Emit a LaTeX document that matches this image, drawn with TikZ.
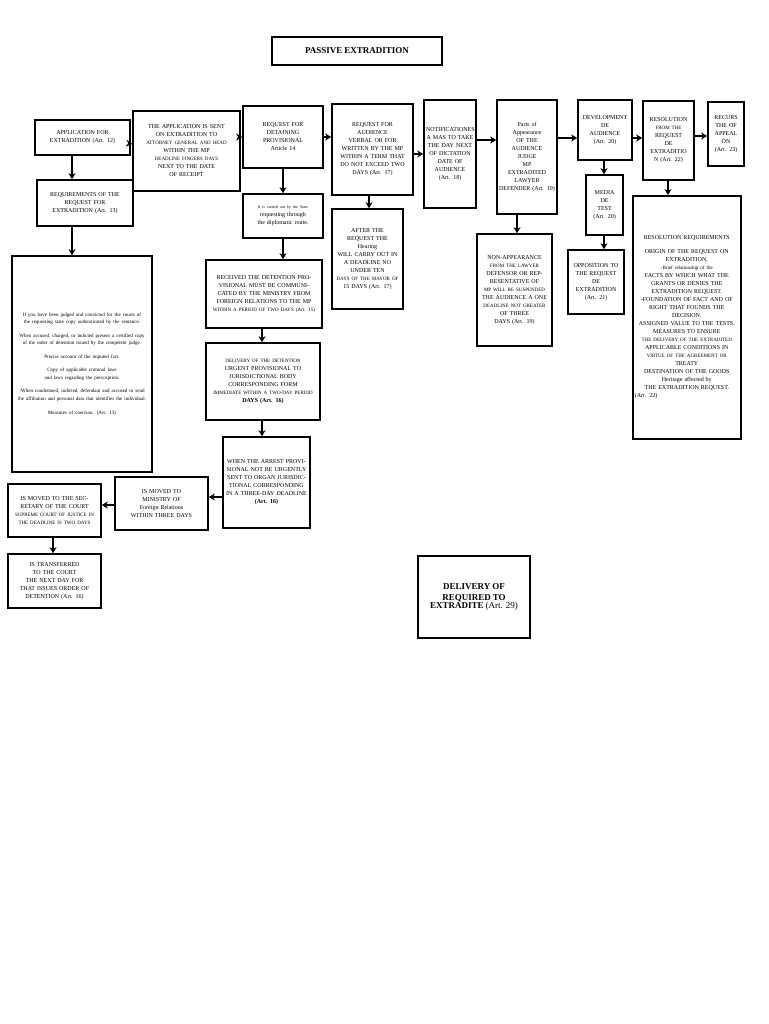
\documentclass[tikz,border=0pt]{standalone}
\usepackage{fontspec}
\setmainfont{Liberation Serif}
\usetikzlibrary{arrows.meta}
\begin{document}
\begin{tikzpicture}[x=1pt,y=-1pt,
  bx/.style={draw,line width=1.6pt,align=center,inner sep=1pt,font=\fontsize{6}{8}\selectfont},
  ar/.style={line width=2.2pt,-{Stealth[length=6pt,width=7pt]}}]
\useasboundingbox (0,0) rectangle (768,1024);
\newcommand{\bxat}[6]{\node[bx,minimum width=#3-#1,minimum height=#4-#2,text width=#3-#1-4] (#5) at ({(#1+#3)/2},{(#2+#4)/2}) {#6};}
\bxat{272}{37}{442}{65}{title}{\fontsize{9}{10}\selectfont\bfseries PASSIVE EXTRADITION}
\bxat{35}{120}{130}{155}{a1}{APPLICATION FOR\\EXTRADITION (Art. 12)}
\bxat{37}{180}{133}{226}{a2}{REQUIREMENTS OF THE\\REQUEST FOR\\EXTRADITION (Art. 13)}
\bxat{12}{256}{152}{472}{a3}{\fontsize{5}{7.5}\selectfont If you have been judged and convicted for the courts of the requesting state copy authenticated by the sentence.\\[6pt]
When accused, charged, or indicted present a certified copy of the order of detention issued by the competent judge.\\[6pt]
Precise account of the imputed fact.\\[6pt]
Copy of applicable criminal laws and laws regarding the prescription.\\[6pt]
-When condemned, indicted, defendant and accused to send the affiliation and personal data that identifies the individual.\\[6pt]
Measures of coercion. (Art. 13)}
\bxat{133}{111}{240}{191}{b1}{THE APPLICATION IS SENT ON EXTRADITION TO\\{\fontsize{5}{7}\selectfont ATTORNEY GENERAL AND HEAD}\\WITHIN THE MP\\{\fontsize{5}{7}\selectfont DEADLINE FINGERS DAYS}\\NEXT TO THE DATE\\OF RECEIPT}
\bxat{243}{106}{323}{168}{c1}{REQUEST FOR\\DETAINING\\PROVISIONAL\\Article 14}
\bxat{243}{194}{323}{238}{c2}{{\fontsize{4}{6}\selectfont It is carried out by the State}\\requesting through\\the diplomatic route.}
\bxat{206}{260}{322}{328}{c3}{RECEIVED THE DETENTION PROVISIONAL MUST BE COMMUNICATED BY THE MINISTRY FROM FOREIGN RELATIONS TO THE MP\\{\fontsize{5}{7}\selectfont WITHIN A PERIOD OF TWO DAYS (Art. 15)}}
\bxat{206}{343}{320}{420}{c4}{{\fontsize{5}{7}\selectfont DELIVERY OF THE DETENTION}\\URGENT PROVISIONAL TO JURISDICTIONAL BODY CORRESPONDING FORM\\{\fontsize{5}{7}\selectfont IMMEDIATE WITHIN A TWO-DAY PERIOD}\\\textbf{DAYS (Art. 16)}}
\bxat{223}{437}{310}{528}{c5}{WHEN THE ARREST PROVISIONAL NOT BE URGENTLY SENT TO ORGAN JURISDICTIONAL CORRESPONDING IN A THREE-DAY DEADLINE\\\textbf{(Art. 16)}}
\bxat{115}{477}{208}{530}{b2}{IS MOVED TO\\MINISTRY OF\\Foreign Relations\\WITHIN THREE DAYS}
\bxat{8}{484}{101}{537}{a4}{IS MOVED TO THE SECRETARY OF THE COURT\\{\fontsize{5}{7}\selectfont SUPREME COURT OF JUSTICE IN THE DEADLINE IS TWO DAYS}}
\bxat{8}{554}{101}{608}{a5}{IS TRANSFERRED TO THE COURT\\THE NEXT DAY FOR\\THAT ISSUES ORDER OF\\DETENTION (Art. 16)}
\bxat{332}{104}{413}{195}{d1}{REQUEST FOR\\AUDIENCE\\VERBAL OR FOR\\WRITTEN BY THE MP\\WITHIN A TERM THAT\\DO NOT EXCEED TWO\\DAYS (Art. 17)}
\bxat{332}{209}{403}{309}{d2}{AFTER THE\\REQUEST THE\\Hearing\\WILL CARRY OUT IN\\A DEADLINE NO\\UNDER TEN\\{\fontsize{5}{7}\selectfont DAYS OF THE MAYOR OF}\\15 DAYS (Art. 17)}
\bxat{424}{100}{476}{208}{e1}{NOTIFICATIONES A MAS TO TAKE THE DAY NEXT OF DICTATION DATE OF AUDIENCE\\(Art. 18)}
\bxat{497}{100}{557}{214}{f1}{Parts of\\Appearance\\OF THE\\AUDIENCE\\JUDGE\\*MP\\EXTRADITED\\LAWYER\\DEFENDER (Art. 19)}
\bxat{477}{234}{552}{346}{f2}{NON-APPEARANCE\\{\fontsize{5}{7}\selectfont FROM THE LAWYER}\\DEFENSOR OR REPRESENTATIVE OF\\{\fontsize{5}{7}\selectfont MP WILL BE SUSPENDED}\\THE AUDIENCE A ONE\\{\fontsize{5}{7}\selectfont DEADLINE NOT GREATER}\\OF THREE DAYS (Art. 19)}
\bxat{578}{100}{632}{160}{g1}{DEVELOPMENT\\DE\\AUDIENCE\\(Art. 20)}
\bxat{586}{175}{623}{235}{g2}{MEDIA\\DE\\TEST\\(Art. 20)}
\bxat{568}{250}{624}{314}{g3}{OPPOSITION TO THE REQUEST\\DE\\EXTRADITION\\(Art. 21)}
\bxat{643}{101}{694}{180}{h1}{RESOLUTION\\{\fontsize{5}{7}\selectfont FROM THE}\\REQUEST\\DE\\EXTRADITIO\\N (Art. 22)}
\node[bx,minimum width=108,minimum height=243,text width=104,align=left,anchor=north west] (h2) at (632,195) {\centering RESOLUTION REQUIREMENTS\par\vspace{6pt}
ORIGIN OF THE REQUEST ON EXTRADITION.\\{\fontsize{5}{7}\selectfont -Brief relationship of the}\\FACTS BY WHICH WHAT THE GRANTS OR DENIES THE EXTRADITION REQUEST.\\-FOUNDATION OF FACT AND OF RIGHT THAT FOUNDS THE DECISION.\\ASSIGNED VALUE TO THE TESTS.\\MEASURES TO ENSURE\\{\fontsize{5}{7}\selectfont THE DELIVERY OF THE EXTRADITED}\\APPLICABLE CONDITIONS IN\\{\fontsize{5}{7}\selectfont VIRTUE OF THE AGREEMENT OR}\\TREATY\\DESTINATION OF THE GOODS\\Heritage affected by\\THE EXTRADITION REQUEST.\\(Art. 22)};
\bxat{708}{102}{744}{166}{i1}{RECURS\\THE OF\\APPEAL\\ÓN (Art. 23)}
\bxat{418}{556}{530}{638}{j}{\fontsize{9}{11}\selectfont\bfseries DELIVERY OF\\REQUIRED TO\\EXTRADITE \normalfont(Art. 29)}
\draw[ar] (a1) -- (b1);
\draw[ar] (b1.east|-c1) -- (c1);
\draw[ar] (c1) -- (d1.west|-c1);
\draw[ar] (d1.east|-e1) -- (e1);
\draw[ar] (e1.east|-0,140) -- (f1.west|-0,140);
\draw[ar] (f1.east|-0,138) -- (g1.west|-0,138);
\draw[ar] (g1.east|-0,138) -- (h1.west|-0,138);
\draw[ar] (h1.east|-0,136) -- (i1.west|-0,136);
\draw[ar] (a1.south-|72,0) -- (a2.north-|72,0);
\draw[ar] (a2.south-|72,0) -- (a3.north-|72,0);
\draw[ar] (c1) -- (c2);
\draw[ar] (c2.south) -- (c3.north-|c2.south);
\draw[ar] (c3.south-|262,0) -- (c4.north-|262,0);
\draw[ar] (c4.south-|262,0) -- (c5.north-|262,0);
\draw[ar] (d1.south-|369,0) -- (d2.north-|369,0);
\draw[ar] (f1.south-|517,0) -- (f2.north-|517,0);
\draw[ar] (g1.south-|604,0) -- (g2.north-|604,0);
\draw[ar] (g2.south-|604,0) -- (g3.north-|604,0);
\draw[ar] (h1.south-|668,0) -- (h2.north-|668,0);
\draw[ar] (c5.west|-0,497) -- (b2.east|-0,497);
\draw[ar] (b2.west|-0,505) -- (a4.east|-0,505);
\draw[ar] (a4.south-|53,0) -- (a5.north-|53,0);
\end{tikzpicture}
\end{document}
